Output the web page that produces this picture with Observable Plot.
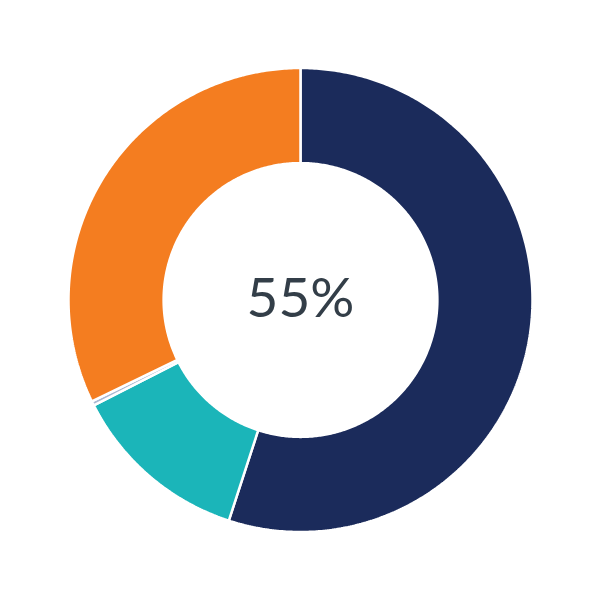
<!DOCTYPE html>
<html>
<head>
<meta charset="utf-8">
<script src="https://cdn.jsdelivr.net/npm/d3@7"></script>
<script src="https://cdn.jsdelivr.net/npm/@observablehq/plot@0.6"></script>
<style>
  html, body { margin: 0; padding: 0; background: #fff; }
</style>
</head>
<body>
<div id="chart"></div>
<script>
const categories = ["Series A", "Series B", "Series C", "Series D"];
const values = [55, 12.5, 0.3, 32.2];
const colors = ["#1b2b5b", "#1bb5b9", "#a9b8d2", "#f47d20"];
const centerLabel = values[0] + "%";

const outerR = 1;
const innerR = 0.59;

// build slice polygons from the data with d3.pie
const pie = d3.pie().sort(null).value(d => d.value);
const slices = pie(categories.map((c, i) => ({category: c, value: values[i]})));
const pts = [];
for (const s of slices) {
  const a0 = s.startAngle, a1 = s.endAngle;
  const n = Math.max(2, Math.ceil((a1 - a0) / 0.01));
  const ring = [];
  for (let k = 0; k <= n; k++) {
    const a = a0 + (a1 - a0) * k / n;
    ring.push([outerR * Math.sin(a), outerR * Math.cos(a)]);
  }
  for (let k = n; k >= 0; k--) {
    const a = a0 + (a1 - a0) * k / n;
    ring.push([innerR * Math.sin(a), innerR * Math.cos(a)]);
  }
  ring.push(ring[0]);
  for (const [x, y] of ring) pts.push({category: s.data.category, x, y});
}

const W = 600, H = 599, R = 232;
const plot = Plot.plot({
  width: W,
  height: H,
  margin: 0,
  x: {domain: [-(W / 2) / R, (W / 2) / R], axis: null},
  y: {domain: [-(H / 2) / R, (H / 2) / R], axis: null},
  color: {domain: categories, range: colors},
  style: {background: "#fff"},
  marks: [
    Plot.line(pts, {x: "x", y: "y", z: "category", fill: "category", stroke: "#fff", strokeWidth: 2.5, strokeLinejoin: "miter", curve: "linear"}),
    Plot.text([centerLabel], {x: () => 0, y: () => 0, text: d => d, fontSize: 55, fontFamily: "Lato", fontWeight: 400, fill: "#333e48", textAnchor: "middle", dy: -1})
  ]
});
document.getElementById("chart").appendChild(plot);
</script>
</body>
</html>
